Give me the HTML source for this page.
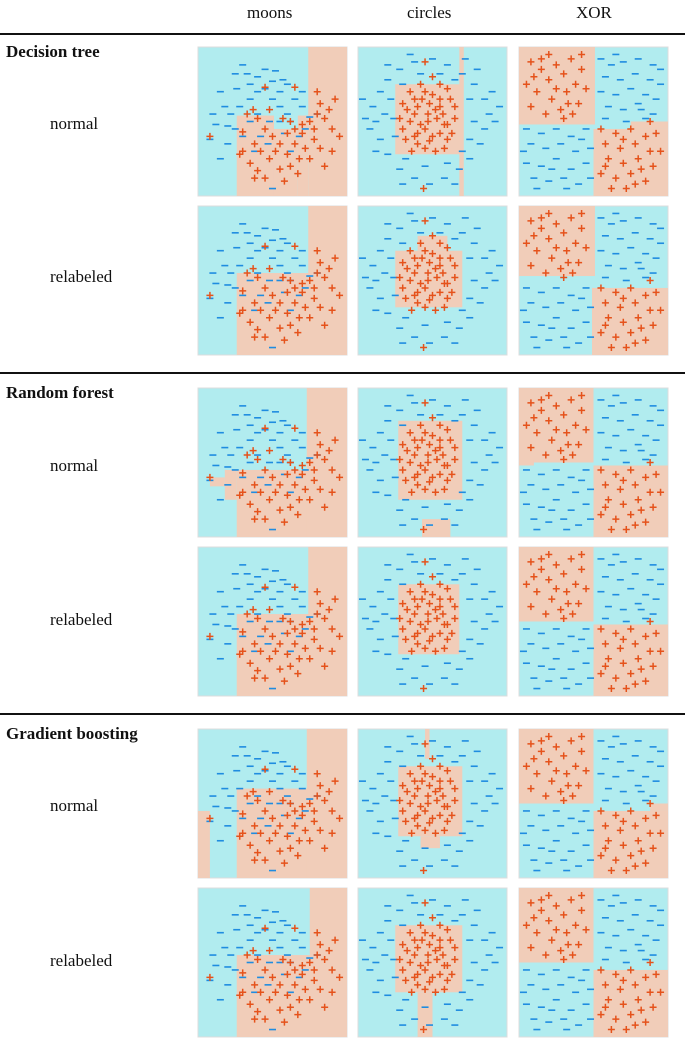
<!DOCTYPE html>
<html><head><meta charset="utf-8">
<style>
html,body{margin:0;padding:0;background:#fff;}
body{width:685px;height:1039px;position:relative;overflow:hidden;font-family:"Liberation Serif",serif;}
.t{position:absolute;font-size:17px;color:#111;white-space:nowrap;}
.b{font-weight:bold;}
.rule{position:absolute;left:0;width:685px;height:2px;background:#111;}
svg{position:absolute;left:0;top:0;}
</style></head>
<body>
<div class="t" style="left:247px;top:3px">moons</div>
<div class="t" style="left:407px;top:3px">circles</div>
<div class="t" style="left:576px;top:3px">XOR</div>

<div class="rule" style="top:33px"></div>
<div class="rule" style="top:372px"></div>
<div class="rule" style="top:713px"></div>

<div class="t b" style="left:6px;top:42px">Decision tree</div>
<div class="t" style="left:50px;top:114px">normal</div>
<div class="t" style="left:50px;top:267px">relabeled</div>
<div class="t b" style="left:6px;top:383px">Random forest</div>
<div class="t" style="left:50px;top:456px">normal</div>
<div class="t" style="left:50px;top:610px">relabeled</div>
<div class="t b" style="left:6px;top:724px">Gradient boosting</div>
<div class="t" style="left:50px;top:796px">normal</div>
<div class="t" style="left:50px;top:951px">relabeled</div>

<svg id="chart" width="685" height="1039" xmlns="http://www.w3.org/2000/svg"></svg>

<script>
// datasets (0-100 panel units, y downward)
const moonsMinus=[[12,52],[20,53],[25,18],[30,12],[35,25],[40,20],[45,15],[50,23],[55,30],[60,25],[65,35],[70,40],[72,55],[75,47],[35,35],[28,40],[18,40],[15,30],[10,45],[22,45],[40,30],[45,28],[50,35],[55,40],[60,45],[62,50],[68,60],[30,60],[20,65],[15,75],[40,45],[48,50],[58,58],[62,70],[42,60],[35,50],[26,28],[33,18],[52,16],[57,22],[70,30],[80,45],[8,62],[50,95],[25,55],[55,50],[38,70],[47,65]];
const moonsPlus=[[45,27],[65,27],[37,42],[30,57],[40,48],[45,55],[50,60],[55,65],[60,58],[65,55],[70,52],[75,50],[80,45],[85,48],[90,55],[88,42],[82,38],[78,62],[72,68],[68,75],[62,80],[55,82],[48,75],[42,70],[38,65],[35,78],[45,88],[58,90],[52,70],[65,65],[75,75],[82,68],[90,70],[85,80],[60,72],[40,83],[48,42],[30,70],[33,45],[70,58],[78,55],[95,60],[62,50],[57,48],[92,35],[80,30],[28,72],[8,60],[38,88],[67,85]];
const circlesMinus=[[10,40],[12,50],[8,55],[15,30],[20,22],[28,15],[38,10],[50,8],[60,12],[70,18],[78,25],[85,35],[88,45],[85,55],[82,65],[75,75],[68,82],[58,88],[48,92],[38,88],[28,82],[20,72],[15,62],[18,45],[22,35],[30,25],[42,18],[55,18],[65,22],[75,35],[78,50],[75,62],[70,70],[60,78],[45,80],[32,75],[25,60],[24,48],[5,48],[92,50],[90,30],[12,70],[30,92],[65,92],[80,15],[20,12],[95,40],[3,35],[35,5],[72,8]];
const circlesPlus=[[47,45],[40,40],[55,40],[35,50],[58,52],[45,30],[50,60],[30,38],[62,35],[38,60],[60,62],[42,25],[55,25],[28,48],[65,48],[45,68],[52,70],[35,30],[60,28],[32,62],[63,58],[48,38],[42,52],[53,48],[38,45],[57,45],[45,55],[50,32],[40,65],[55,58],[30,55],[65,40],[50,20],[45,10],[44,95],[36,70],[58,68],[47,50],[43,35],[52,42],[38,35],[60,52],[33,42],[48,63],[55,35],[40,58]];
const xorPlus=[[8,10],[15,8],[25,12],[35,8],[42,15],[10,20],[20,22],[30,18],[38,25],[12,30],[22,35],[32,30],[40,38],[8,40],[18,45],[28,42],[36,45],[45,28],[5,25],[25,28],[15,15],[33,38],[42,5],[20,5],[30,48],[55,55],[65,58],[75,55],[85,60],[92,58],[58,65],[68,68],[78,65],[88,70],[60,75],[70,78],[80,75],[90,80],[55,85],[65,88],[75,85],[85,90],[62,95],[72,95],[95,70],[82,82],[58,80],[70,62],[88,50],[78,92]];
const xorMinus=[[55,8],[62,12],[70,10],[80,8],[90,12],[58,20],[68,22],[78,18],[88,22],[95,15],[55,30],[65,32],[75,28],[85,32],[92,35],[60,40],[70,42],[80,38],[90,45],[58,48],[72,50],[85,48],[95,25],[65,5],[82,42],[5,55],[15,58],[25,55],[35,60],[45,55],[8,65],[18,68],[28,65],[38,70],[48,68],[5,78],[15,80],[25,75],[35,82],[45,78],[10,88],[20,90],[30,88],[40,92],[48,88],[12,95],[32,95],[42,62],[22,82],[3,70]];
// predicted "+" regions per panel [x0,y0,x1,y1]
const regions=[
 [[[26,46,51,100],[51,55,67,100],[67,46,74,100],[74,0,100,100]], [[25,25,70,72],[68,0,71,100]], [[0,0,51,52],[50,55,100,100],[75,50,100,55]]],
 [[[26,45,100,100],[74,0,100,100]], [[25,30,70,68],[40,20,60,30]], [[0,0,51,47],[49,55,100,100]]],
 [[[26,55,100,100],[18,55,26,75],[73,0,100,100],[8,60,18,66]], [[27,22,70,75],[43,88,62,100]], [[0,0,50,50],[50,52,100,100],[0,48,10,52]]],
 [[[26,45,100,100],[74,0,100,100]], [[27,25,68,72]], [[0,0,50,50],[50,52,100,100]]],
 [[[26,40,100,100],[73,0,100,100],[0,55,8,100]], [[27,25,70,72],[42,72,55,80],[45,0,48,20]], [[0,0,50,50],[50,55,100,100],[88,50,100,55]]],
 [[[26,45,100,100],[75,0,100,100]], [[25,25,70,70],[40,70,50,100]], [[0,0,50,50],[50,55,100,100]]]
];
const rowNames=['dt-normal','dt-relabeled','rf-normal','rf-relabeled','gb-normal','gb-relabeled'];
const colNames=['moons','circles','xor'];
const datasets=[[moonsPlus,moonsMinus],[circlesPlus,circlesMinus],[xorPlus,xorMinus]];
const rowTop=[47,206,388,547,729,888];
const colLeft=[198,358,519];
const S=149;
const NS='http://www.w3.org/2000/svg';
const svg=document.getElementById('chart');
function mk(t,a,p){const e=document.createElementNS(NS,t);for(const k in a)e.setAttribute(k,a[k]);p.appendChild(e);return e;}
function sx(c,v){return colLeft[c]+v/100*S;}
function sy(r,v){return rowTop[r]+v/100*S;}
for(let r=0;r<6;r++)for(let c=0;c<3;c++){
 const g=mk('g',{},svg);
 
 
 const bg=mk('rect',{x:colLeft[c],y:rowTop[r],width:S,height:S,fill:'#b1ecef',stroke:'#dcdcdc','stroke-width':1},g);
 
 
 for(const q of regions[r][c]){
  const e=mk('rect',{x:sx(c,q[0]),y:sy(r,q[1]),width:(q[2]-q[0])/100*S,height:(q[3]-q[1])/100*S,fill:'#f1cdb9'},g);
  
  
 }
 const [pl,mi]=datasets[c];
 for(const p of mi){
  const x=sx(c,p[0]),y=sy(r,p[1]);
  const e=mk('line',{x1:x-3.5,y1:y,x2:x+3.5,y2:y,stroke:'#1f8ce0','stroke-width':1.6},g);
  
  
 }
 for(const p of pl){
  const x=sx(c,p[0]),y=sy(r,p[1]);
  const e=mk('path',{d:`M${x-3.5},${y}H${x+3.5}M${x},${y-3.5}V${y+3.5}`,stroke:'#e5521b','stroke-width':1.5,fill:'none'},g);
  
  
 }
}
</script>
</body></html>
